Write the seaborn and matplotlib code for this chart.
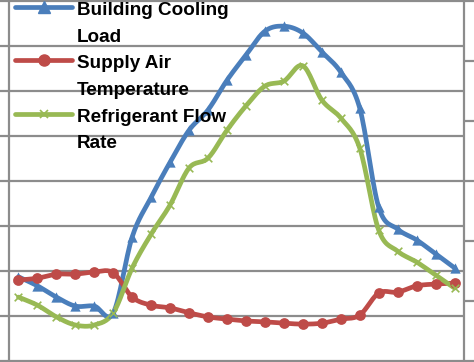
import numpy as np
import matplotlib
matplotlib.use("Agg")
import matplotlib.pyplot as plt
from matplotlib.lines import Line2D
import seaborn as sns

# hourly values (primary axis units = gridline steps)
hours = list(range(1, 25))
cooling_load = [1.87, 1.67, 1.42, 1.22, 1.22, 1.07, 2.76, 3.64, 4.42, 5.13, 5.58, 6.24,
                6.80, 7.33, 7.44, 7.29, 6.87, 6.42, 5.62, 3.42, 2.93, 2.69, 2.38, 2.07]
supply_air_temp = [1.80, 1.84, 1.93, 1.93, 1.98, 1.96, 1.42, 1.24, 1.18, 1.07, 0.98, 0.93,
                   0.89, 0.87, 0.84, 0.82, 0.84, 0.93, 1.02, 1.51, 1.53, 1.67, 1.71, 1.73]
refrigerant_flow = [1.42, 1.24, 0.98, 0.80, 0.80, 1.07, 2.07, 2.82, 3.47, 4.29, 4.51, 5.13,
                    5.67, 6.11, 6.22, 6.56, 5.80, 5.40, 4.73, 2.91, 2.44, 2.20, 1.91, 1.62]
labels = [["Building Cooling", "Load"], ["Supply Air", "Temperature"], ["Refrigerant Flow", "Rate"]]
colors = ["#4A7EBB", "#BE4B48", "#98B954"]


def smooth(x, y, n=16):
    # Catmull-Rom curve through the points, like Excel's "smoothed line"
    x = np.asarray(x, float)
    y = np.asarray(y, float)
    px = np.concatenate([[2 * x[0] - x[1]], x, [2 * x[-1] - x[-2]]])
    py = np.concatenate([[2 * y[0] - y[1]], y, [2 * y[-1] - y[-2]]])
    t = np.linspace(0, 1, n, endpoint=False)
    xs, ys = [], []
    for i in range(1, len(px) - 2):
        for p, out in ((px, xs), (py, ys)):
            p0, p1, p2, p3 = p[i - 1], p[i], p[i + 1], p[i + 2]
            out.extend(0.5 * (2 * p1 + (-p0 + p2) * t + (2 * p0 - 5 * p1 + 4 * p2 - p3) * t ** 2
                              + (-p0 + 3 * p1 - 3 * p2 + p3) * t ** 3))
    xs.append(x[-1])
    ys.append(y[-1])
    return np.array(xs), np.array(ys)


sns.set_style("white")
plt.rcParams['font.family'] = ['Liberation Sans', 'DejaVu Sans']

W, H = 474, 362
fig = plt.figure(figsize=(W / 100, H / 100), dpi=100)
ax = fig.add_axes([9 / W, 0, 455 / W, 1])
grid_col = "#8C8C8C"

series = [
    (cooling_load, colors[0], dict(marker="^", s=55, linewidth=0)),
    (supply_air_temp, colors[1], dict(marker="o", s=60, linewidth=0)),
    (refrigerant_flow, colors[2], dict(marker="x", s=30, linewidth=1.2)),
]
for vals, col, mk in series:
    xs, ys = smooth(hours, vals)
    sns.lineplot(x=xs, y=ys, ax=ax, color=col, linewidth=3.4, sort=False, estimator=None)
    sns.scatterplot(x=hours, y=vals, ax=ax, color=col, zorder=3, **mk)

ax.set_xlim(0.5, 24.5)
ax.set_ylim(-1 / 45, 361 / 45)
ax.set_yticks(range(0, 9))
ax.set_xticks([])
ax.yaxis.grid(True, color=grid_col, linewidth=1.6)
ax.set_axisbelow(True)
ax.tick_params(axis="y", length=7, width=1.6, color=grid_col, labelleft=False, left=True)
for side in ["top", "bottom"]:
    ax.spines[side].set_visible(False)
ax.spines["left"].set_color(grid_col)
ax.spines["left"].set_linewidth(1.6)
ax.spines["right"].set_color(grid_col)
ax.spines["right"].set_linewidth(1.6)

# secondary axis ticks on the right
ax2 = ax.twinx()
ax2.set_ylim(-1 / 60, 361 / 60)
ax2.set_yticks(range(0, 7))
ax2.tick_params(axis="y", length=8, width=1.6, color=grid_col, labelright=False, right=True)
for side in ["top", "bottom", "left", "right"]:
    ax2.spines[side].set_visible(False)

# legend, Excel style: sample next to the first line of each wrapped label
markers = [dict(marker="^", markersize=8), dict(marker="o", markersize=8),
           dict(marker="x", markersize=6, markeredgewidth=1.2)]
row_h = 26.7
for i, (lines, col, mk) in enumerate(zip(labels, colors, markers)):
    base = 15 + 2 * i * row_h
    y_line = 1 - (base - 8) / H
    fig.add_artist(Line2D([15 / W, 43.5 / W, 72 / W], [y_line] * 3, transform=fig.transFigure,
                          color=col, lw=3.4, markevery=[1], **mk))
    for j, txt in enumerate(lines):
        fig.text(77 / W, 1 - (base + j * row_h) / H, txt, fontsize=13.6, fontweight="bold",
                 va="baseline", ha="left", color="black")

fig.savefig("out.png", dpi=100)
